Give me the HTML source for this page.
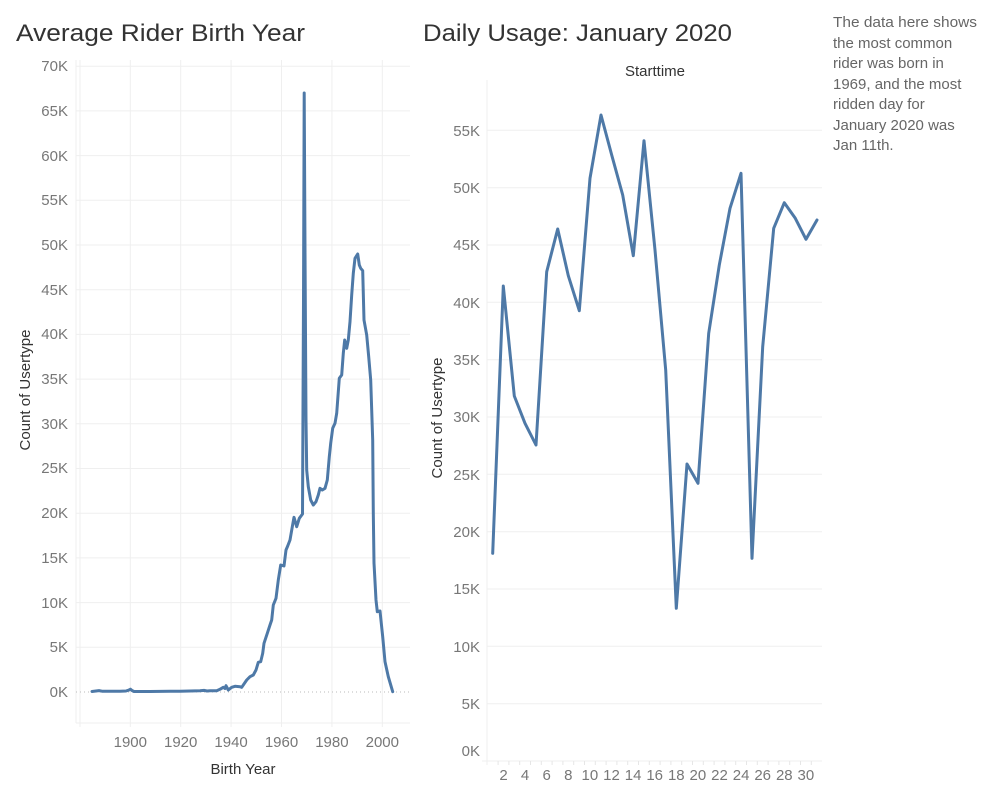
<!DOCTYPE html>
<html>
<head>
<meta charset="utf-8">
<style>
html,body{margin:0;padding:0;background:#fff;}
svg{display:block;font-family:"Liberation Sans",sans-serif;}
</style>
</head>
<body>
<svg width="990" height="796" viewBox="0 0 990 796" xmlns="http://www.w3.org/2000/svg">
<rect width="990" height="796" fill="#fff"/>

<!-- Titles -->
<text x="16" y="41" font-size="24" fill="#333" textLength="289" lengthAdjust="spacingAndGlyphs">Average Rider Birth Year</text>
<text x="423" y="41" font-size="24" fill="#333" textLength="309" lengthAdjust="spacingAndGlyphs">Daily Usage: January 2020</text>

<!-- Text block -->
<g font-size="15" fill="#666">
<text x="833" y="27" textLength="144" lengthAdjust="spacingAndGlyphs">The data here shows</text>
<text x="833" y="48">the most common</text>
<text x="833" y="68">rider was born in</text>
<text x="833" y="89">1969, and the most</text>
<text x="833" y="109">ridden day for</text>
<text x="833" y="130">January 2020 was</text>
<text x="833" y="150">Jan 11th.</text>
</g>

<!-- ===== Left chart ===== -->
<g stroke="#efefef" stroke-width="1">
<line x1="76" y1="66.2" x2="410" y2="66.2"/>
<line x1="76" y1="110.9" x2="410" y2="110.9"/>
<line x1="76" y1="155.6" x2="410" y2="155.6"/>
<line x1="76" y1="200.3" x2="410" y2="200.3"/>
<line x1="76" y1="245" x2="410" y2="245"/>
<line x1="76" y1="289.7" x2="410" y2="289.7"/>
<line x1="76" y1="334.4" x2="410" y2="334.4"/>
<line x1="76" y1="379.1" x2="410" y2="379.1"/>
<line x1="76" y1="423.8" x2="410" y2="423.8"/>
<line x1="76" y1="468.5" x2="410" y2="468.5"/>
<line x1="76" y1="513.2" x2="410" y2="513.2"/>
<line x1="76" y1="557.9" x2="410" y2="557.9"/>
<line x1="76" y1="602.6" x2="410" y2="602.6"/>
<line x1="76" y1="647.3" x2="410" y2="647.3"/>
<line x1="80" y1="60" x2="80" y2="727"/>
<line x1="130.3" y1="60" x2="130.3" y2="727"/>
<line x1="180.7" y1="60" x2="180.7" y2="727"/>
<line x1="231.1" y1="60" x2="231.1" y2="727"/>
<line x1="281.5" y1="60" x2="281.5" y2="727"/>
<line x1="331.9" y1="60" x2="331.9" y2="727"/>
<line x1="382.3" y1="60" x2="382.3" y2="727"/>
<line x1="76" y1="60" x2="76" y2="723"/>
<line x1="76" y1="723" x2="410" y2="723"/>
</g>
<line x1="76" y1="692" x2="410" y2="692" stroke="#bbb" stroke-width="1" stroke-dasharray="1,3"/>

<g font-size="15" fill="#777" text-anchor="end">
<text x="68" y="71">70K</text>
<text x="68" y="116">65K</text>
<text x="68" y="161">60K</text>
<text x="68" y="205">55K</text>
<text x="68" y="250">50K</text>
<text x="68" y="295">45K</text>
<text x="68" y="339">40K</text>
<text x="68" y="384">35K</text>
<text x="68" y="429">30K</text>
<text x="68" y="473">25K</text>
<text x="68" y="518">20K</text>
<text x="68" y="563">15K</text>
<text x="68" y="608">10K</text>
<text x="68" y="652">5K</text>
<text x="68" y="697">0K</text>
</g>
<g font-size="15" fill="#777" text-anchor="middle">
<text x="130.3" y="747">1900</text>
<text x="180.7" y="747">1920</text>
<text x="231.1" y="747">1940</text>
<text x="281.5" y="747">1960</text>
<text x="331.9" y="747">1980</text>
<text x="382.3" y="747">2000</text>
</g>
<text x="243" y="774" font-size="15" fill="#333" text-anchor="middle">Birth Year</text>
<text transform="translate(30,390) rotate(-90)" font-size="15" fill="#333" text-anchor="middle">Count of Usertype</text>

<polyline fill="none" stroke="#4e79a7" stroke-width="3" stroke-linejoin="round" stroke-linecap="round" points="92,691.5 96,691 99,690.6 102,691.2 110,691.3 120,691.3 126,691 129,690 130.5,689.2 132,690.5 134,691.5 150,691.5 170,691.3 180,691.2 190,691 200,690.8 204,690.4 207,691 210,690.8 216.7,690.7 220,689.3 223.3,687.3 225,688.5 226,685.7 228.3,690 231.7,687.3 235,686.3 240,686.7 241.7,687.3 246.7,680 250,676.7 253.3,675 256,670 258.3,662.3 260.7,661.7 262.7,653.3 264,643.3 267.3,633.3 270,625 271.7,620 273.3,605 276,598.3 278.3,580 280.7,565 284,566 286,550 287.7,546 290,540 292.3,526.7 294,517.3 296.7,526.7 299.3,518.3 302.5,514 303.5,300 304.2,93 305,250 306,420 306.7,470 308.3,486.7 310.7,500 313.3,505 316,501.7 318.3,495 320,488.3 322.3,490 325,488.3 327.3,480 329.3,456.7 330.7,443.3 332.7,428.3 335,423.3 336.7,413.3 339.3,378.3 341.7,375 343.3,353.3 344.7,340 346.7,348.3 348.3,340 350,321.7 351.7,295 353.3,273.3 355,258.3 357.7,254 359.3,265 360.7,268.3 362.7,270.7 364,320 366.7,335 368.7,356.7 370.7,380 372.7,440 373.3,513 374,563 376,600 377.3,611.7 380,611 382.7,636.7 385,661.7 388.3,676.7 392.7,691.7"/>

<!-- ===== Right chart ===== -->
<text x="655" y="76" font-size="15" fill="#333" text-anchor="middle">Starttime</text>
<g stroke="#efefef" stroke-width="1">
<line x1="487" y1="130.3" x2="822" y2="130.3"/>
<line x1="487" y1="187.7" x2="822" y2="187.7"/>
<line x1="487" y1="245" x2="822" y2="245"/>
<line x1="487" y1="302.3" x2="822" y2="302.3"/>
<line x1="487" y1="359.7" x2="822" y2="359.7"/>
<line x1="487" y1="417" x2="822" y2="417"/>
<line x1="487" y1="474.3" x2="822" y2="474.3"/>
<line x1="487" y1="531.7" x2="822" y2="531.7"/>
<line x1="487" y1="589" x2="822" y2="589"/>
<line x1="487" y1="646.3" x2="822" y2="646.3"/>
<line x1="487" y1="703.7" x2="822" y2="703.7"/>
<line x1="487" y1="80" x2="487" y2="765"/>
<line x1="482" y1="761" x2="822" y2="761"/>
</g>
<g stroke="#e6e6e6" stroke-width="1">
<line x1="498.1" y1="761" x2="498.1" y2="765"/>
<line x1="508.9" y1="761" x2="508.9" y2="765"/>
<line x1="519.7" y1="761" x2="519.7" y2="765"/>
<line x1="530.5" y1="761" x2="530.5" y2="765"/>
<line x1="541.3" y1="761" x2="541.3" y2="765"/>
<line x1="552.1" y1="761" x2="552.1" y2="765"/>
<line x1="562.9" y1="761" x2="562.9" y2="765"/>
<line x1="573.7" y1="761" x2="573.7" y2="765"/>
<line x1="584.5" y1="761" x2="584.5" y2="765"/>
<line x1="595.3" y1="761" x2="595.3" y2="765"/>
<line x1="606.1" y1="761" x2="606.1" y2="765"/>
<line x1="616.9" y1="761" x2="616.9" y2="765"/>
<line x1="627.7" y1="761" x2="627.7" y2="765"/>
<line x1="638.5" y1="761" x2="638.5" y2="765"/>
<line x1="649.3" y1="761" x2="649.3" y2="765"/>
<line x1="660.1" y1="761" x2="660.1" y2="765"/>
<line x1="670.9" y1="761" x2="670.9" y2="765"/>
<line x1="681.7" y1="761" x2="681.7" y2="765"/>
<line x1="692.5" y1="761" x2="692.5" y2="765"/>
<line x1="703.3" y1="761" x2="703.3" y2="765"/>
<line x1="714.1" y1="761" x2="714.1" y2="765"/>
<line x1="724.9" y1="761" x2="724.9" y2="765"/>
<line x1="735.7" y1="761" x2="735.7" y2="765"/>
<line x1="746.5" y1="761" x2="746.5" y2="765"/>
<line x1="757.3" y1="761" x2="757.3" y2="765"/>
<line x1="768.1" y1="761" x2="768.1" y2="765"/>
<line x1="778.9" y1="761" x2="778.9" y2="765"/>
<line x1="789.7" y1="761" x2="789.7" y2="765"/>
<line x1="800.5" y1="761" x2="800.5" y2="765"/>
<line x1="811.3" y1="761" x2="811.3" y2="765"/>
</g>
<g font-size="15" fill="#777" text-anchor="end">
<text x="480" y="136">55K</text>
<text x="480" y="193">50K</text>
<text x="480" y="250">45K</text>
<text x="480" y="308">40K</text>
<text x="480" y="365">35K</text>
<text x="480" y="422">30K</text>
<text x="480" y="480">25K</text>
<text x="480" y="537">20K</text>
<text x="480" y="594">15K</text>
<text x="480" y="652">10K</text>
<text x="480" y="709">5K</text>
<text x="480" y="756">0K</text>
</g>
<g font-size="15" fill="#777" text-anchor="middle">
<text x="503.5" y="780">2</text>
<text x="525.1" y="780">4</text>
<text x="546.7" y="780">6</text>
<text x="568.3" y="780">8</text>
<text x="589.9" y="780">10</text>
<text x="611.5" y="780">12</text>
<text x="633.1" y="780">14</text>
<text x="654.7" y="780">16</text>
<text x="676.3" y="780">18</text>
<text x="697.9" y="780">20</text>
<text x="719.5" y="780">22</text>
<text x="741.1" y="780">24</text>
<text x="762.7" y="780">26</text>
<text x="784.3" y="780">28</text>
<text x="805.9" y="780">30</text>
</g>
<text transform="translate(442,418) rotate(-90)" font-size="15" fill="#333" text-anchor="middle">Count of Usertype</text>

<polyline fill="none" stroke="#4e79a7" stroke-width="3" stroke-linejoin="round" stroke-linecap="round" points="492.7,553.3 503.3,286 514.3,396 525,423.3 536,445 546.7,271.7 557.7,229 568.3,275.7 579.3,310.7 590,178.3 601,115 611.7,155 622.7,195 633.3,255.7 644,140.7 655,250 665.7,370 676.3,608.3 687,464 698,483.3 708.7,333.3 719.3,265 730,208.3 741,173.3 752,558.3 762.7,346.7 773.7,228.3 784.3,202.7 795.3,218.3 806,239.3 817,220"/>
</svg>
</body>
</html>
